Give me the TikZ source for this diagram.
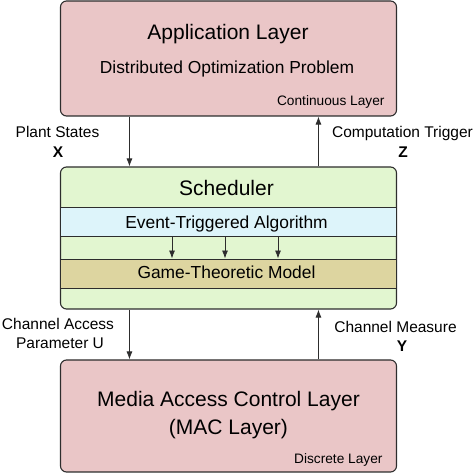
\documentclass[tikz,border=0pt]{standalone}
\usepackage{fontspec}
\setmainfont{Liberation Sans}
\usepackage{tikz}
\usetikzlibrary{arrows.meta,positioning}
\definecolor{layerpink}{RGB}{234,198,199}
\definecolor{schedgreen}{RGB}{226,246,208}
\definecolor{evtblue}{RGB}{221,244,250}
\definecolor{gamekhaki}{RGB}{221,213,160}
\definecolor{edgegray}{RGB}{45,45,45}

\begin{document}
\begin{tikzpicture}[x=1pt, y=1pt,
    layerbox/.style={draw=edgegray, line width=1.1pt, rounded corners=6pt, minimum width=336pt, fill=layerpink, inner sep=0pt},
    schedbox/.style={layerbox, fill=schedgreen},
    band/.style={draw=edgegray, line width=0.9pt, minimum width=336pt, minimum height=29pt, inner sep=0pt},
    arrow/.style={-{Latex[length=8pt, width=6pt]}, line width=0.8pt, edgegray},
    bigtext/.style={font=\fontsize{21}{25}\selectfont, anchor=base},
    midtext/.style={font=\fontsize{17.4}{21}\selectfont, anchor=base},
    sidetext/.style={font=\fontsize{15.5}{19}\selectfont, anchor=base},
    tagtext/.style={font=\fontsize{13.7}{16}\selectfont, anchor=base east}
]
\useasboundingbox (0,0) rectangle (474,474);
% LAYER 1: Application
\node[layerbox, minimum height=115pt] (app) at (228.5,415.5) {};
\node[bigtext] (apptitle) at (228,434.7) {Application Layer};
\node[midtext] (appsub) at (227,400) {Distributed Optimization Problem};
\node[tagtext] (apptag) at (388,368) {Continuous Layer};
% LAYER 2: Scheduler
\node[schedbox, minimum height=142pt] (sched) at (228.5,236) {};
\node[bigtext] (schedtitle) at (226.5,278) {Scheduler};
\node[band, fill=evtblue] (evt) at (228.5,252.5) {};
\node[midtext] at (226.5,245.3) {Event-Triggered Algorithm};
\node[band, fill=gamekhaki] (game) at (228.5,200.5) {};
\node[midtext] at (226.5,195) {Game-Theoretic Model};
\foreach \dx in {-56.5,-3.5,49.5}
    \draw[arrow] ([xshift=\dx pt]evt.south) -- ([xshift=\dx pt]game.north);
% LAYER 3: MAC
\node[layerbox, minimum height=112pt] (mac) at (228.5,58) {};
\node[bigtext] (mactitle) at (228.5,67.3) {Media Access Control Layer};
\node[bigtext] (macsub) at (228.5,39) {(MAC Layer)};
\node[tagtext] (mactag) at (386,10.7) {Discrete Layer};
% Arrows between layers
\draw[arrow] ([xshift=69.5pt]app.south west) -- ([xshift=69.5pt]sched.north west);
\draw[arrow] ([xshift=258.5pt]sched.north west) -- ([xshift=258.5pt]app.south west);
\draw[arrow] ([xshift=69.5pt]sched.south west) -- ([xshift=69.5pt]mac.north west);
\draw[arrow] ([xshift=258.5pt]mac.north west) -- ([xshift=258.5pt]sched.south west);
% Side labels
\node[sidetext] (plant) at (57.5,336.3) {Plant States};
\node[sidetext, font=\fontsize{15.5}{19}\selectfont\bfseries] (xvar) at (58,316.7) {X};
\node[sidetext] (comp) at (402.5,336.3) {Computation Trigger};
\node[sidetext, font=\fontsize{15.5}{19}\selectfont\bfseries] (zvar) at (403,316.7) {Z};
\node[sidetext] (chacc) at (58,144) {Channel Access};
\node[sidetext] (param) at (60,125) {Parameter U};
\node[sidetext] (chmeas) at (395.5,141.7) {Channel Measure};
\node[sidetext, font=\fontsize{15.5}{19}\selectfont\bfseries] (yvar) at (402,122.3) {Y};
\end{tikzpicture}
\end{document}
